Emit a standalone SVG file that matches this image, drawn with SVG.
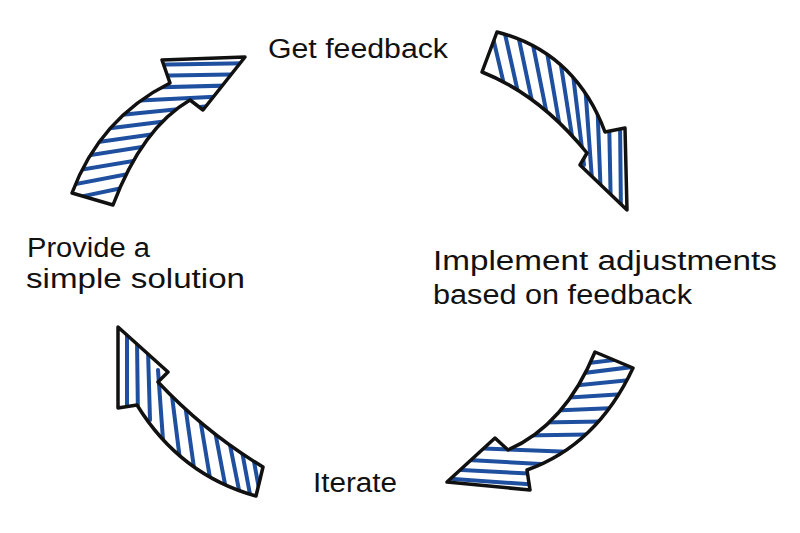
<svg xmlns="http://www.w3.org/2000/svg" width="800" height="533" viewBox="0 0 800 533">
<style>
.lbl{font-family:"Liberation Sans","DejaVu Sans",sans-serif;font-size:27px;fill:#111;}
.body{fill:#fff;stroke:none;}
.edge{fill:none;stroke:#111;stroke-width:3.5;stroke-linejoin:round;stroke-linecap:round;}
.st{stroke:#1f4f9f;stroke-width:4;stroke-linecap:round;fill:none;}
</style>
<defs>
<path id="a1" d="M72,193 Q100,118 170,83 L162,60 L245,57 L203,110 L190,100 Q142,128 113,205 Z"/>
<path id="a2" d="M497,32 Q575,52 605,132 L625,128 L627,210 L580,165 L587,153 Q540,95 482,72 Z"/>
<path id="a3" d="M595,352 L633,368 Q597,445 527,470 L530,490 L447,482 L495,438 L508,450 Q565,425 595,352 Z"/>
<path id="a4" d="M118,327 L168,372 L158,382 Q205,432 263,467 L256,496 Q180,475 137,405 L118,408 Z"/>
<clipPath id="c1"><use href="#a1"/></clipPath>
<clipPath id="c2"><use href="#a2"/></clipPath>
<clipPath id="c3"><use href="#a3"/></clipPath>
<clipPath id="c4"><use href="#a4"/></clipPath>
</defs>
<rect width="800" height="533" fill="#fff"/>
<g id="connectors">
<g id="arrow-feedback-to-implement">
<use href="#a2" class="body"/>
<g clip-path="url(#c2)" class="st">
<line x1="490" y1="25" x2="510" y2="110"/><line x1="503" y1="25" x2="523" y2="115"/><line x1="516" y1="25" x2="537" y2="125"/><line x1="530" y1="30" x2="551" y2="135"/><line x1="544" y1="35" x2="563" y2="145"/><line x1="557" y1="40" x2="575" y2="155"/><line x1="570" y1="50" x2="584" y2="165"/><line x1="584" y1="70" x2="592" y2="180"/><line x1="597" y1="95" x2="601" y2="200"/><line x1="609" y1="115" x2="611" y2="215"/><line x1="620" y1="120" x2="621" y2="215"/>
</g>
<use href="#a2" class="edge"/>
</g>
<g id="arrow-implement-to-iterate">
<use href="#a3" class="body"/>
<g clip-path="url(#c3)" class="st">
<line x1="580" y1="364" x2="640" y2="357"/><line x1="560" y1="376" x2="640" y2="366"/><line x1="550" y1="388" x2="640" y2="379"/><line x1="530" y1="400" x2="640" y2="393"/><line x1="520" y1="412" x2="640" y2="407"/><line x1="510" y1="423" x2="640" y2="421"/><line x1="490" y1="436" x2="620" y2="434"/><line x1="470" y1="448" x2="600" y2="453"/><line x1="450" y1="459" x2="560" y2="465"/><line x1="440" y1="469" x2="540" y2="474"/><line x1="440" y1="478" x2="540" y2="485"/>
</g>
<use href="#a3" class="edge"/>
</g>
<g id="arrow-iterate-to-provide">
<use href="#a4" class="body"/>
<g clip-path="url(#c4)" class="st">
<line x1="127" y1="330" x2="127" y2="420"/><line x1="137" y1="340" x2="138" y2="420"/><line x1="148" y1="350" x2="150" y2="420"/><line x1="158" y1="370" x2="163" y2="440"/><line x1="170" y1="380" x2="180" y2="460"/><line x1="183" y1="390" x2="195" y2="475"/><line x1="197" y1="400" x2="212" y2="490"/><line x1="211" y1="410" x2="228" y2="500"/><line x1="225" y1="420" x2="242" y2="505"/><line x1="238" y1="430" x2="252" y2="505"/><line x1="250" y1="440" x2="262" y2="505"/>
</g>
<use href="#a4" class="edge"/>
</g>
<g id="arrow-provide-to-feedback">
<use href="#a1" class="body"/>
<g clip-path="url(#c1)" class="st">
<line x1="140" y1="65" x2="260" y2="63"/><line x1="140" y1="76" x2="260" y2="74"/><line x1="130" y1="88" x2="250" y2="85"/><line x1="110" y1="102" x2="230" y2="96"/><line x1="90" y1="118" x2="210" y2="106"/><line x1="80" y1="132" x2="200" y2="117"/><line x1="70" y1="146" x2="190" y2="129"/><line x1="60" y1="160" x2="180" y2="141"/><line x1="55" y1="174" x2="175" y2="154"/><line x1="55" y1="188" x2="170" y2="166"/><line x1="55" y1="202" x2="170" y2="178"/>
</g>
<use href="#a1" class="edge"/>
</g>
</g>
<g id="node-get-feedback"><text class="lbl" x="268" y="58" textLength="180" lengthAdjust="spacingAndGlyphs">Get feedback</text></g>
<g id="node-implement"><text class="lbl" x="433" y="270" textLength="344" lengthAdjust="spacingAndGlyphs">Implement adjustments</text><text class="lbl" x="433" y="304" textLength="259" lengthAdjust="spacingAndGlyphs">based on feedback</text></g>
<g id="node-iterate"><text class="lbl" x="313" y="492" textLength="84" lengthAdjust="spacingAndGlyphs">Iterate</text></g>
<g id="node-provide"><text class="lbl" x="27" y="257" textLength="123" lengthAdjust="spacingAndGlyphs">Provide a</text><text class="lbl" x="26" y="288" textLength="219" lengthAdjust="spacingAndGlyphs">simple solution</text></g>
</svg>
